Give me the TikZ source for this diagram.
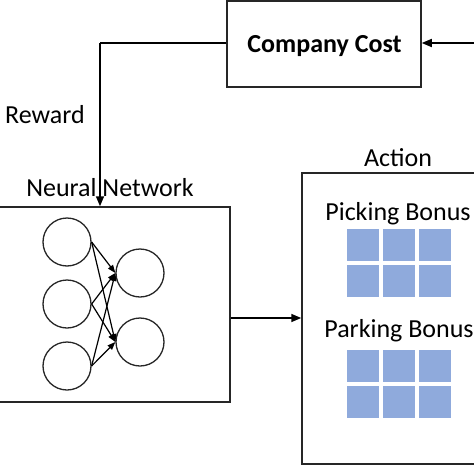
\documentclass[tikz,border=0pt]{standalone}
\usepackage{fontspec}
\setmainfont{Carlito}
\usetikzlibrary{arrows.meta}
\begin{document}
\begin{tikzpicture}[x=1pt,y=-1pt,
  box/.style={draw=black!85,line width=1.5pt},
  lbl/.style={inner sep=0pt,anchor=base,font=\fontsize{26}{31}\selectfont},
  neuron/.style={circle,draw=black!85,line width=1.3pt,minimum size=48pt,inner sep=0pt},
  arr/.style={line width=1.5pt,-{Triangle[length=10pt,width=8pt]}},
  narr/.style={line width=1.2pt,-{Triangle[length=8pt,width=6pt]}},
  cell/.style={minimum size=32pt,inner sep=0pt},
]
\useasboundingbox (0,0) rectangle (474,474);
\definecolor{cellblue}{HTML}{8FAADC}
% Company cost
\node[box,minimum width=194pt,minimum height=86pt,inner sep=0pt] (cc) at (324,44) {};
\node[lbl,font=\fontsize{26}{31}\selectfont\bfseries] (cct) at (324.5,52) {Company Cost};
\coordinate (ccin) at (480,43);
\draw[arr] (ccin) -- (cc.east |- ccin);
% Neural network box
\node[box,minimum width=240pt,minimum height=195pt,inner sep=0pt] (nn) at (110,304.5) {};
\node[lbl] (nnl) at (110,196) {Neural Network};
\coordinate (rw) at (100,43);
\draw[line width=1.5pt] (cc.west |- rw) -- (rw);
\draw[arr] (rw) -- (rw |- nn.north);
\node[lbl,anchor=base west] (rwl) at (5,123) {Reward};
% neurons
\node[neuron] (l1) at (67,242) {};
\node[neuron] (l2) at (67,304) {};
\node[neuron] (l3) at (67,366) {};
\node[neuron] (r1) at (140,273) {};
\node[neuron] (r2) at (140,342) {};
\foreach \a in {l1,l2,l3}{
  \foreach \b in {r1,r2}{
    \draw[narr] (\a.east) -- (\b.west);
  }
}
% Action box
\node[box,minimum width=190pt,minimum height=291pt,inner sep=0pt] (ac) at (397,318.5) {};
\node[lbl] (acl) at (398,166) {Action};
\draw[arr] (nn.east |- 0,318) -- (ac.west |- 0,318);
\node[lbl] (pk) at (398,220) {Picking Bonus};
\node[lbl] (pb) at (399,337) {Parking Bonus};
\foreach \i/\x in {1/363,2/399,3/435}{
  \foreach \j/\y in {1/244.5,2/280.5}{
    \node[cell,fill=cellblue] (pk\i\j) at (\x,\y) {};
  }
  \foreach \j/\y in {1/366,2/402}{
    \node[cell,fill=cellblue] (pb\i\j) at (\x,\y) {};
  }
}
\end{tikzpicture}
\end{document}
